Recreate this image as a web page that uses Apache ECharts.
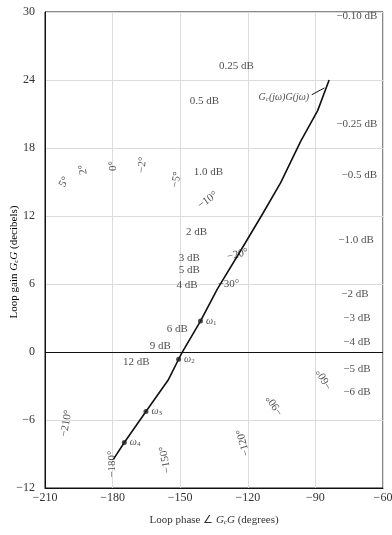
<!DOCTYPE html>
<html><head><meta charset="utf-8">
<script src="https://cdn.jsdelivr.net/npm/echarts@6/dist/echarts.min.js"></script>
<style>html,body{margin:0;padding:0;background:#fff}#c{width:392px;height:535px}</style>
</head><body><div id="c"></div>
<script>
// Loop response G_c(jω)G(jω): phase (deg) and gain (dB)
var phase = [-179.6, -174.8, -165.2, -155.4, -150.7, -149.2, -141.0, -133.6, -121.0, -113.4, -105.4, -96.5, -89.0, -83.9];
var gain  = [-9.45, -7.98, -5.25, -2.5, -0.64, -0.05, 2.73, 5.52, 9.66, 12.2, 14.94, 18.6, 21.3, 24.0];
// Frequency markers
var markName  = ['ω1', 'ω2', 'ω3', 'ω4'];
var markPhase = [-141.0, -150.7, -165.2, -174.8];
var markGain  = [2.73, -0.64, -5.25, -7.98];
// Axis ticks
var xTicks = [-210, -180, -150, -120, -90, -60];
var yTicks = [-12, -6, 0, 6, 12, 18, 24, 30];
// Nichols chart contour labels
var labelText  = ['0.25 dB','0.5 dB','−0.10 dB','−0.25 dB','−0.5 dB','1.0 dB','−1.0 dB','2 dB','3 dB','5 dB','4 dB',
                  '−20°','−30°','−2 dB','−3 dB','−4 dB','−5 dB','−6 dB','6 dB','9 dB','12 dB',
                  '−10°','−5°','−2°','0°','2°','5°','−210°','−180°','−150°','−120°','−90°','−60°'];
var labelPhase = [-125.0,-139.2,-71.6,-71.6,-70.5,-137.5,-72.0,-142.8,-146.0,-146.0,-147.0,
                  -124.5,-128.6,-72.5,-71.6,-71.6,-71.6,-71.6,-151.3,-158.8,-169.5,
                  -137.8,-151.7,-166.8,-179.7,-193.1,-201.5,-200.6,-180.2,-156.6,-122.0,-108.0,-86.0];
var labelGain  = [25.2,22.1,29.6,20.1,15.6,15.9,9.9,10.6,8.3,7.2,5.9,
                  8.6,6.0,5.1,3.0,0.9,-1.5,-3.5,2.0,0.5,-0.9,
                  13.4,15.2,16.5,16.4,16.1,15.0,-6.3,-9.9,-9.5,-8.0,-4.7,-2.4];
var labelRotate = [0,0,0,0,0,0,0,0,0,0,0,
                   15,0,0,0,0,0,0,0,0,0,
                   35,80,85,90,100,60,80,90,100,105,125,120];

var serif = 'Liberation Serif';
var chart = echarts.init(document.getElementById('c'));

var curve = phase.map(function (p, i) { return [p, gain[i]]; });
var marks = markPhase.map(function (p, i) {
  return { value: [p, markGain[i]], label: { formatter: '{w|ω}{s|' + markName[i].slice(1) + '}' } };
});
var labels = labelText.map(function (t, i) {
  return { value: [labelPhase[i], labelGain[i]], label: { formatter: t, rotate: labelRotate[i] } };
});
var sub = { fontFamily: serif, fontSize: 7, fontStyle: 'italic', color: '#333', verticalAlign: 'bottom', padding: [5, 0, 0, 0] };
var titleRich = {
  t: { fontFamily: serif, fontSize: 11, color: '#333' },
  i: { fontFamily: serif, fontSize: 11, fontStyle: 'italic', color: '#333' },
  s: sub
};

chart.setOption({
  animation: false,
  backgroundColor: '#fff',
  grid: { left: 45, right: 9, top: 12, bottom: 47, containLabel: false, outerBoundsMode: 'none',
          show: true, borderColor: '#111', borderWidth: 1 },
  graphic: [{
    type: 'text', x: 14, y: 262, rotation: Math.PI / 2,
    style: { text: '{t|Loop gain }{i|G}{s|c}{i|G}{t| (decibels)}', rich: titleRich,
             align: 'center', verticalAlign: 'middle' }
  }],
  xAxis: {
    type: 'value', min: xTicks[0], max: xTicks[xTicks.length - 1], interval: 30,
    axisLine: { onZero: false, lineStyle: { color: '#111' } },
    axisTick: { show: false },
    splitLine: { lineStyle: { color: '#dcdcdc', width: 1 } },
    axisLabel: { fontFamily: serif, fontSize: 12, color: '#333', margin: 4,
      formatter: function (v) { return v < 0 ? '−' + Math.abs(v) : '' + v; } },
    name: '{t|Loop phase ∠ }{i|G}{s|c}{i|G}{t| (degrees)}', nameLocation: 'middle', nameGap: 26,
    nameTextStyle: { rich: titleRich }
  },
  yAxis: {
    type: 'value', min: yTicks[0], max: yTicks[yTicks.length - 1], interval: 6,
    axisLine: { onZero: false, lineStyle: { color: '#111' } },
    axisTick: { show: false },
    splitLine: { lineStyle: { color: '#dcdcdc', width: 1 } },
    axisLabel: { fontFamily: serif, fontSize: 12, color: '#333', margin: 10,
      formatter: function (v) { return v < 0 ? '−' + Math.abs(v) : '' + v; } }
  },
  series: [
    {
      type: 'line', data: curve, symbol: 'none', smooth: false,
      lineStyle: { color: '#111', width: 1.6 }, z: 5,
      markLine: {
        silent: true, symbol: 'none', label: { show: false },
        lineStyle: { color: '#111', width: 1, type: 'solid' },
        data: [
          { yAxis: 0 },
          [ { coord: [-91.6, 22.7] }, { coord: [-86.0, 23.3] } ]
        ]
      }
    },
    {
      type: 'scatter', data: marks, symbolSize: 5, itemStyle: { color: '#222' }, z: 6,
      label: { show: true, position: 'right', distance: 3,
        rich: { w: { fontFamily: serif, fontSize: 10, fontStyle: 'italic', color: '#222' },
                s: { fontFamily: serif, fontSize: 7, color: '#222', verticalAlign: 'bottom', padding: [4, 0, 0, 0] } } }
    },
    {
      type: 'scatter', data: labels, symbolSize: 0, z: 4,
      label: { show: true, position: 'inside', fontFamily: serif, fontSize: 11, color: '#222' }
    },
    {
      type: 'scatter', data: [[-104.0, 22.5]], symbolSize: 0, z: 4,
      label: { show: true, position: 'inside',
        formatter: '{i|G}{s|c}{i|(jω)G(jω)}',
        rich: { i: { fontFamily: serif, fontSize: 10, fontStyle: 'italic', color: '#222' },
                s: { fontFamily: serif, fontSize: 7, fontStyle: 'italic', color: '#222', verticalAlign: 'bottom', padding: [4, 0, 0, 0] } } }
    }
  ]
});
</script>
</body></html>
